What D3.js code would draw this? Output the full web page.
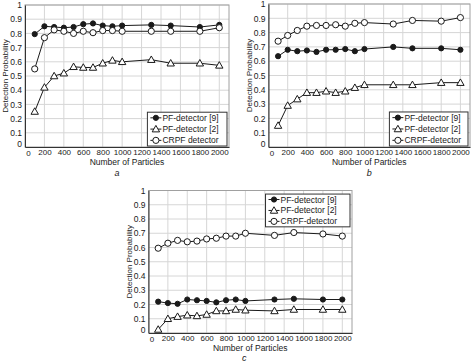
<!DOCTYPE html>
<html><head><meta charset="utf-8">
<script src="https://cdn.jsdelivr.net/npm/d3@7"></script>
<style>
body{margin:0;background:#fff;}
svg{display:block;font-family:"Liberation Sans",Arial,sans-serif;}
</style></head><body>
<svg id="chart" width="474" height="362"></svg>
<script>
const particles = [100,200,300,400,500,600,700,800,900,1000,1300,1500,1800,2000];
const xTicks = [0,200,400,600,800,1000,1200,1400,1600,1800,2000];
const yTicks = [0,0.1,0.2,0.3,0.4,0.5,0.6,0.7,0.8,0.9,1];

const aPF9  = [0.795,0.85,0.845,0.84,0.845,0.865,0.87,0.855,0.85,0.855,0.86,0.855,0.845,0.86];
const aPF2  = [0.25,0.42,0.50,0.52,0.565,0.56,0.56,0.59,0.61,0.60,0.615,0.59,0.59,0.575];
const aCRPF = [0.55,0.77,0.825,0.815,0.80,0.815,0.805,0.82,0.82,0.815,0.815,0.815,0.815,0.84];

const bPF9  = [0.635,0.68,0.67,0.675,0.665,0.68,0.68,0.685,0.67,0.685,0.70,0.69,0.69,0.68];
const bPF2  = [0.15,0.29,0.335,0.38,0.38,0.39,0.38,0.39,0.415,0.435,0.435,0.435,0.45,0.45];
const bCRPF = [0.74,0.78,0.815,0.845,0.85,0.85,0.855,0.845,0.865,0.87,0.86,0.885,0.88,0.905];

const cPF9  = [0.22,0.21,0.205,0.235,0.23,0.225,0.215,0.23,0.235,0.225,0.235,0.24,0.235,0.235];
const cPF2  = [0.025,0.10,0.115,0.125,0.12,0.13,0.155,0.155,0.165,0.16,0.155,0.165,0.165,0.165];
const cCRPF = [0.595,0.63,0.65,0.64,0.645,0.66,0.665,0.68,0.68,0.70,0.685,0.705,0.695,0.68];

const legendA = ["PF-detector [9]","PF-detector [2]","CRPF detector"];
const legendBC = ["PF-detector [9]","PF-detector [2]","CRPF-detector"];
const captions = ["a","b","c"];

const svg = d3.select("#chart");
const ink = "#1a1a1a";
const FS = 8.5;
const XFS = 8;

const panels = [
  {x0:25, x1:229, y0:5, y1:147, series:[aPF9,aPF2,aCRPF], legend:legendA, legPos:"br", cap:captions[0], capDx:-10, labY:165, capY:176},
  {x0:268.5, x1:470, y0:4, y1:147, series:[bPF9,bPF2,bCRPF], legend:legendBC, legPos:"br", cap:captions[1], capDx:0, labY:165, capY:176},
  {x0:148.5, x1:352, y0:190.5, y1:333, series:[cPF9,cPF2,cCRPF], legend:legendBC, legPos:"tr", cap:captions[2], capDx:-6, labY:351, capY:361}
];

function marker(g, kind, cx, cy){
  if(kind===0){
    g.append("circle").attr("cx",cx).attr("cy",cy).attr("r",2.6).attr("fill",ink).attr("stroke",ink);
  } else if(kind===1){
    const s=3.7;
    g.append("path").attr("d",`M${cx},${cy-s}L${cx+s},${cy+s*0.75}L${cx-s},${cy+s*0.75}Z`)
      .attr("fill","#fff").attr("stroke",ink).attr("stroke-width",1);
  } else {
    g.append("circle").attr("cx",cx).attr("cy",cy).attr("r",3.1).attr("fill","#fff").attr("stroke",ink).attr("stroke-width",1);
  }
}

panels.forEach(p=>{
  const x = d3.scaleLinear().domain([0,2100]).range([p.x0,p.x1]);
  const y = d3.scaleLinear().domain([0,1]).range([p.y1,p.y0]);
  const g = svg.append("g");
  // grid
  g.append("g").selectAll("line").data(xTicks.slice(1)).join("line")
    .attr("x1",d=>x(d)).attr("x2",d=>x(d)).attr("y1",p.y0).attr("y2",p.y1)
    .attr("stroke","#d6d6d6").attr("stroke-width",1);
  g.append("g").selectAll("line").data(yTicks.slice(1)).join("line")
    .attr("y1",d=>y(d)).attr("y2",d=>y(d)).attr("x1",p.x0).attr("x2",p.x1)
    .attr("stroke","#d6d6d6").attr("stroke-width",1);
  // box
  g.append("rect").attr("x",p.x0).attr("y",p.y0).attr("width",p.x1-p.x0).attr("height",p.y1-p.y0)
    .attr("fill","none").attr("stroke","#a0a0a0").attr("stroke-width",1);
  // axes
  const xa = d3.axisBottom(x).tickValues(xTicks).tickSize(0).tickPadding(2).tickFormat(d3.format("d"));
  const ya = d3.axisLeft(y).tickValues(yTicks).tickSize(0).tickPadding(3).tickFormat(d=>d===0||d===1?String(d):d3.format(".1f")(d));
  const gx = g.append("g").attr("transform",`translate(0,${p.y1})`).call(xa);
  gx.select(".domain").attr("stroke","#333");
  gx.selectAll("text").attr("font-size",XFS).attr("fill",ink).attr("font-family","Liberation Sans, Arial, sans-serif");
  gx.selectAll(".tick").filter(d=>d===0).select("text").attr("dx",3).attr("dy","0.9em");
  const gy = g.append("g").attr("transform",`translate(${p.x0},0)`).call(ya);
  gy.select(".domain").attr("stroke","#333");
  gy.selectAll("text").attr("font-size",FS).attr("fill",ink).attr("font-family","Liberation Sans, Arial, sans-serif");
  gy.selectAll(".tick").filter(d=>d===0).select("text").attr("dy","-0.1em");
  // titles
  g.append("text").attr("x",(p.x0+p.x1)/2).attr("y",p.labY).attr("text-anchor","middle")
    .attr("font-size",FS).attr("fill",ink).text("Number of Particles");
  g.append("text").attr("transform",`translate(${p.x0-17},${(p.y0+p.y1)/2}) rotate(-90)`)
    .attr("text-anchor","middle").attr("font-size",8).attr("fill",ink).text("Detection Probability");
  g.append("text").attr("x",(p.x0+p.x1)/2+p.capDx).attr("y",p.capY).attr("text-anchor","middle")
    .attr("font-size",9).attr("font-style","italic").attr("fill",ink).text(p.cap);
  // series
  p.series.forEach((vals,k)=>{
    const line = d3.line().x((d,i)=>x(particles[i])).y(d=>y(d));
    g.append("path").datum(vals).attr("d",line).attr("fill","none").attr("stroke",ink).attr("stroke-width",1);
    vals.forEach((v,i)=>marker(g,k,x(particles[i]),y(v)));
  });
  // legend
  const w = p.x1-p.x0, h = p.y1-p.y0;
  let lx0, ly0, ly1;
  if(p.legPos==="br"){ lx0 = p.x0 + w*0.60; ly0 = p.y0 + h*0.755; ly1 = p.y1 - 1; }
  else { lx0 = p.x0 + w*0.575; ly0 = p.y0 + h*0.025; ly1 = p.y0 + h*0.255; }
  const lx1 = p.x1 - 2;
  g.append("rect").attr("x",lx0).attr("y",ly0).attr("width",lx1-lx0).attr("height",ly1-ly0)
    .attr("fill","#fff").attr("stroke","#333").attr("stroke-width",1);
  const rowH = (ly1-ly0)/3;
  p.legend.forEach((lab,k)=>{
    const cy = ly0 + rowH*(k+0.5);
    g.append("line").attr("x1",lx0+3).attr("x2",lx0+14).attr("y1",cy).attr("y2",cy).attr("stroke",ink);
    marker(g,k,lx0+8.5,cy);
    g.append("text").attr("x",lx0+15).attr("y",cy).attr("dy","0.35em").attr("font-size",FS).attr("fill",ink).text(lab);
  });
});
</script>
</body></html>
